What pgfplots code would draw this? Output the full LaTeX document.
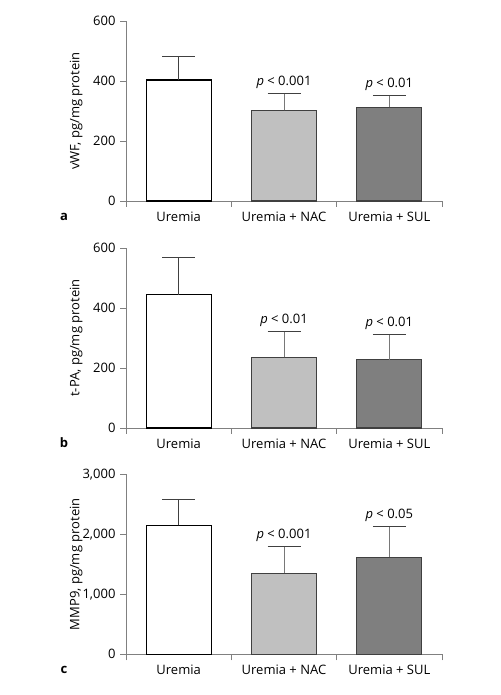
\documentclass[border=0pt]{standalone}
\usepackage{fontspec}
\setmainfont{Open Sans}
\usepackage{pgfplots}
\pgfplotsset{compat=1.18}

\definecolor{axisgray}{RGB}{128,128,128}
\definecolor{barlight}{RGB}{192,192,192}
\definecolor{bardark}{RGB}{127,127,127}
\definecolor{baredge}{RGB}{64,64,64}
\definecolor{errgray}{RGB}{120,120,120}

\pgfplotsset{
  panel/.style={
    scale only axis, width=316pt, height=180pt,
    anchor=south west, clip=false,
    xmin=-0.5, xmax=2.5, ymin=0,
    axis lines*=left,
    axis line style={axisgray, line width=0.9pt},
    tick style={axisgray, line width=0.9pt},
    tick align=outside, major tick length=6pt,
    xtick={-0.5,0.5,1.5,2.5},
    xticklabels={{},{},{},{}},
    extra x ticks={0,1,2},
    extra x tick labels={Uremia, Uremia + NAC, Uremia + SUL},
    extra x tick style={major tick length=0pt, tick label style={yshift=-6pt}},
    /pgf/number format/assume math mode=true,
    /pgf/number format/1000 sep={,},
    ylabel style={at={(axis description cs:-0.158,0.5)}, anchor=center},
    ybar, bar width=65pt,
    error bars/y dir=plus, error bars/y explicit,
  },
  uremia/.style={draw=black, fill=white, line width=1.2pt, bar shift=0pt,
    error bars/error bar style={draw=baredge, line width=0.9pt},
    error bars/error mark options={rotate=90, mark size=16.5pt, line width=0.9pt, draw=baredge}},
  nac/.style={draw=baredge, fill=barlight, line width=1.2pt, bar shift=0pt,
    error bars/error bar style={draw=errgray, line width=0.9pt},
    error bars/error mark options={rotate=90, mark size=16.5pt, line width=0.9pt, draw=baredge}},
  sul/.style={draw=baredge, fill=bardark, line width=1.2pt, bar shift=0pt,
    error bars/error bar style={draw=errgray, line width=0.9pt},
    error bars/error mark options={rotate=90, mark size=16.5pt, line width=0.9pt, draw=baredge}},
}

\begin{document}
\fontsize{13}{15.5}\selectfont
\begin{tikzpicture}
\useasboundingbox (0,0) rectangle (500pt,695pt);

% a: vWF
\begin{axis}[panel, at={(126pt,494pt)}, ymax=600, ytick={0,200,400,600},
  ylabel={vWF, pg/mg protein}]
\addplot[uremia] coordinates {(0,403) +- (0,79)};
\addplot[nac] coordinates {(1,302) +- (0,57)};
\addplot[sul] coordinates {(2,312) +- (0,40)};
\node[anchor=base, yshift=8pt] at (axis cs:1,359) {{\itshape p} < 0.001};
\node[anchor=base, yshift=8pt] at (axis cs:2,352) {{\itshape p} < 0.01};
\end{axis}

% b: t-PA
\begin{axis}[panel, at={(126pt,267pt)}, ymax=600, ytick={0,200,400,600},
  ylabel={t-PA, pg/mg protein}]
\addplot[uremia] coordinates {(0,444) +- (0,126)};
\addplot[nac] coordinates {(1,235) +- (0,88)};
\addplot[sul] coordinates {(2,227) +- (0,86)};
\node[anchor=base, yshift=8pt] at (axis cs:1,323) {{\itshape p} < 0.01};
\node[anchor=base, yshift=8pt] at (axis cs:2,313) {{\itshape p} < 0.01};
\end{axis}

% c: MMP9
\begin{axis}[panel, at={(126pt,40.7pt)}, ymax=3000, ytick={0,1000,2000,3000},
  ylabel={MMP9, pg/mg protein}]
\addplot[uremia] coordinates {(0,2147) +- (0,429)};
\addplot[nac] coordinates {(1,1352) +- (0,439)};
\addplot[sul] coordinates {(2,1619) +- (0,506)};
\node[anchor=base, yshift=8pt] at (axis cs:1,1791) {{\itshape p} < 0.001};
\node[anchor=base, yshift=8pt] at (axis cs:2,2125) {{\itshape p} < 0.05};
\end{axis}

\node[font=\bfseries] at (64pt,478pt) {a};
\node[font=\bfseries] at (64pt,252pt) {b};
\node[font=\bfseries] at (64pt,25pt) {c};
\end{tikzpicture}
\end{document}
